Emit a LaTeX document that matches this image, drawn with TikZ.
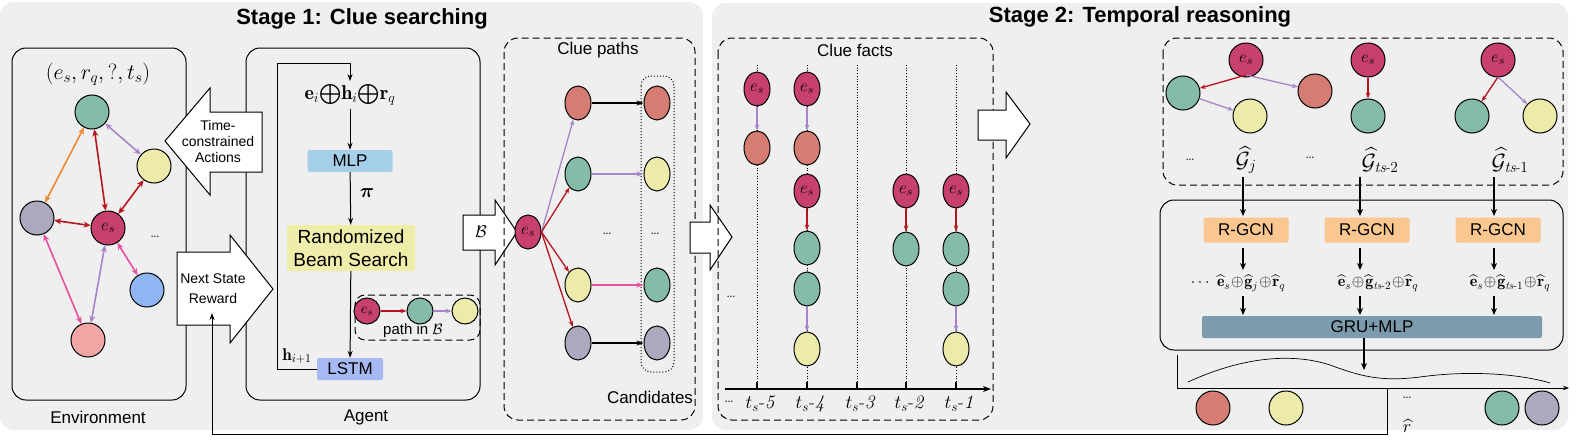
\RequirePackage{fix-cm}
\documentclass[tikz,border=0pt]{standalone}
\usepackage{amsmath,amssymb}
\usepackage{fontspec}
\newfontfamily\hv{Liberation Sans}
\usetikzlibrary{arrows.meta,shapes.geometric}
\definecolor{bgc}{HTML}{EFEFEF}
\definecolor{cES}{HTML}{C8406E}
\definecolor{cGR}{HTML}{84BBA9}
\definecolor{cYE}{HTML}{EDEBAA}
\definecolor{cGY}{HTML}{ABA9BE}
\definecolor{cSA}{HTML}{D57D72}
\definecolor{cBL}{HTML}{8FB5F2}
\definecolor{cPK}{HTML}{F2A6A3}
\definecolor{eRD}{HTML}{B8141E}
\definecolor{ePU}{HTML}{A784C8}
\definecolor{ePK}{HTML}{E94F9F}
\definecolor{eOR}{HTML}{EE8833}
\definecolor{bMLP}{HTML}{A6CFEA}
\definecolor{bLSTM}{HTML}{A6B9F2}
\definecolor{bRBS}{HTML}{EEEDAA}
\definecolor{bRG}{HTML}{F9C78F}
\definecolor{bGRU}{HTML}{7C9CAD}
\tikzset{
 nd/.style={circle,draw,line width=1pt,minimum size=34pt,inner sep=0pt,font=\fontsize{17}{17}\selectfont},
 sm/.style={circle,draw,line width=1pt,minimum size=26pt,inner sep=0pt,font=\fontsize{15}{15}\selectfont},
 el/.style={ellipse,draw,line width=1pt,minimum width=26pt,minimum height=34pt,inner sep=0pt,font=\fontsize{17}{17}\selectfont},
 ar/.style={line width=1.6pt,-{Stealth[length=7pt,width=6pt]}},
 dar/.style={line width=1.6pt,{Stealth[length=7pt,width=6pt]}-{Stealth[length=7pt,width=6pt]}},
 bar/.style={line width=1pt,-{Stealth[length=7pt,width=5pt]}},
 lbl/.style={font=\hv\fontsize{17}{17}\selectfont},
 dts/.style={font=\fontsize{17}{17}\selectfont},
 box/.style={rounded corners=2pt,inner sep=0pt,font=\hv\fontsize{17}{17}\selectfont},
 frame/.style={draw,line width=1pt,rounded corners=14pt},
 dframe/.style={draw,line width=1pt,dashed,dash pattern=on 7pt off 4pt,rounded corners=14pt},
 blk/.style={draw,fill=white,line width=1pt},
}
\begin{document}
\begin{tikzpicture}[x=1pt,y=-1pt]
\useasboundingbox (0,0) rectangle (1578,439);
\fill[bgc,rounded corners=14pt] (0,2) rectangle (703,430);
\fill[bgc,rounded corners=14pt] (712,3) rectangle (1568,430);
\node[font=\hv\bfseries\fontsize{22}{22}\selectfont] (t1) at (362,19) {Stage 1: Clue searching};
\node[font=\hv\bfseries\fontsize{22}{22}\selectfont] (t2) at (1140,17) {Stage 2: Temporal reasoning};
% Environment
\draw[frame] (12,48) rectangle (186,400);
\node[lbl] (envl) at (98,417) {Environment};
\node[font=\fontsize{22}{22}\selectfont] (tup) at (98,74) {$(e_s, r_q, ?, t_s)$};
\node[nd,fill=cGR] (g1) at (92,112) {};
\node[nd,fill=cYE] (y1) at (154,166) {};
\node[nd,fill=cGY] (a1) at (37,218) {};
\node[nd,fill=cES] (e1) at (108,228) {$e_s$};
\node[nd,fill=cBL] (b1) at (147,290) {};
\node[nd,fill=cPK] (p1) at (88,340) {};
\node[dts] (d1) at (155,237) {\dots};
\draw[dar,eOR] (a1) -- (g1);
\draw[dar,eRD] (g1) -- (e1);
\draw[dar,ePU] (g1) -- (y1);
\draw[dar,eRD] (y1) -- (e1);
\draw[dar,eRD] (a1) -- (e1);
\draw[dar,ePK] (a1) -- (p1);
\draw[dar,ePU] (p1) -- (e1);
\draw[dar,ePK] (e1) -- (b1);
% Agent
\draw[frame] (246,48) rectangle (480,400);
\node[lbl] (agl) at (366,417) {Agent};
% block arrows
\draw[blk] (165,141) -- (210,88) -- (210,112) -- (262,112) -- (262,172) -- (210,172) -- (210,195) -- cycle;
\node[font=\hv\fontsize{14}{16}\selectfont,align=center] (tca) at (218,141) {Time-\\constrained\\Actions};
\draw[blk] (177,252) -- (230,252) -- (230,235) -- (273,289) -- (230,343) -- (230,325) -- (177,325) -- cycle;
\node[font=\hv\fontsize{14}{20}\selectfont,align=center] (nsr) at (213,289) {Next State\\Reward};
\node[font=\fontsize{20}{20}\selectfont] (form) at (350,95) {$\mathbf{e}_i\!\bigoplus\!\mathbf{h}_i\!\bigoplus\!\mathbf{r}_q$};
\node[box,fill=bMLP,minimum width=85pt,minimum height=22pt] (mlp) at (350,161) {MLP};
\node[font=\fontsize{20}{20}\selectfont] (pi) at (367,193) {$\boldsymbol{\pi}$};
\node[box,fill=bRBS,minimum width=128pt,minimum height=46pt,align=center,font=\hv\fontsize{19}{23}\selectfont] (rbs) at (351,248) {Randomized\\Beam Search};
\node[box,fill=bLSTM,minimum width=66pt,minimum height=22pt] (lstm) at (350,369) {LSTM};
\node[font=\fontsize{17}{17}\selectfont] (hi) at (297,356) {$\mathbf{h}_{i+1}$};
\draw[bar] (form) -- (mlp);
\draw[bar] (mlp) -- (rbs);
\draw[bar] (rbs) -- (lstm);
\coordinate (lp1) at (277,369);
\coordinate (lp2) at (277,63);
\coordinate (lp3) at (350,63);
\draw[bar] (lstm.west) -- (lp1) -- (lp2) -- (lp3) -- (form.north);
\draw[dframe,rounded corners=10pt] (355,295) rectangle (480,340);
\node[sm,fill=cES] (pe) at (367,311) {$e_s$};
\node[sm,fill=cGR] (pg) at (420,311) {};
\node[sm,fill=cYE] (py) at (465,311) {};
\draw[line width=1.3pt,eRD,-{Stealth[length=6pt]}] (pe) -- (pg);
\draw[line width=1.3pt,ePU,-{Stealth[length=6pt]}] (pg) -- (py);
\node[lbl,font=\hv\fontsize{15}{15}\selectfont] (pib) at (413,331) {path in $\mathcal{B}$};
\draw[blk] (463,215) -- (495,215) -- (495,200) -- (517,232) -- (495,265) -- (495,250) -- (463,250) -- cycle;
\node[font=\fontsize{17}{17}\selectfont] (bb) at (481,232) {$\mathcal{B}$};
% Clue paths
\draw[dframe] (504,38) rectangle (695,420);
\node[lbl] (cpl) at (598,50) {Clue paths};
\draw[line width=1pt,dotted,rounded corners=10pt] (641,76) rectangle (674,372);
\node[lbl] (cand) at (650,397) {Candidates};
\node[el,fill=cES] (ce) at (528,232) {$e_s$};
\node[el,fill=cSA] (c11) at (578,103) {};
\node[el,fill=cGR] (c12) at (578,174) {};
\node[el,fill=cYE] (c13) at (578,285) {};
\node[el,fill=cGY] (c14) at (578,343) {};
\node[el,fill=cSA] (c21) at (657,103) {};
\node[el,fill=cYE] (c22) at (657,174) {};
\node[el,fill=cGR] (c23) at (657,285) {};
\node[el,fill=cGY] (c24) at (657,343) {};
\node[dts] (cd1) at (607,234) {\dots};
\node[dts] (cd2) at (655,234) {\dots};
\draw[line width=1.3pt,ePU,-{Stealth[length=6pt]}] (ce.east) -- (c11);
\draw[line width=1.3pt,eRD,-{Stealth[length=6pt]}] (ce.east) -- (c12);
\draw[line width=1.3pt,eRD,-{Stealth[length=6pt]}] (ce.east) -- (c13);
\draw[line width=1.3pt,eRD,-{Stealth[length=6pt]}] (ce.east) -- (c14);
\draw[line width=1.5pt,-{Stealth[length=7pt]}] (c11) -- (c21);
\draw[line width=1.5pt,ePU,-{Stealth[length=7pt]}] (c12) -- (c22);
\draw[line width=1.5pt,ePK,-{Stealth[length=7pt]}] (c13) -- (c23);
\draw[line width=1.5pt,-{Stealth[length=7pt]}] (c14) -- (c24);
\draw[blk] (690,222) -- (710,222) -- (710,205) -- (732,237) -- (710,270) -- (710,253) -- (690,253) -- cycle;
% Clue facts
\draw[dframe] (718,38) rectangle (993,420);
\node[lbl] (cfl) at (855,50) {Clue facts};
\coordinate (ax0) at (725,389);
\coordinate (ax1) at (991,389);
\draw[line width=2pt,-{Stealth[length=8pt]}] (ax0) -- (ax1);
\foreach \x/\l in {757/5,807/4,857/3,906/2,956/1}{
  \coordinate (tk\l) at (\x,65);
  \coordinate (tb\l) at (\x,389);
  \draw[dotted,line width=0.7pt] (tk\l) -- (tb\l);
  \draw[line width=1.6pt] (\x,382) -- (tb\l);
  \node[font=\fontsize{19}{19}\selectfont] (tl\l) at (\x+3,404) {$t_{s}$-$\mathit{\l}$};
}
\node[dts] (fdl) at (729,402) {\dots};
\node[dts] (fdm) at (731,297) {\dots};
\node[el,fill=cES] (f51) at (757,89) {$e_s$};
\node[el,fill=cSA] (f52) at (757,148) {};
\node[el,fill=cES] (f41) at (807,89) {$e_s$};
\node[el,fill=cSA] (f42) at (807,148) {};
\node[el,fill=cES] (f43) at (807,191) {$e_s$};
\node[el,fill=cGR] (f44) at (807,248) {};
\node[el,fill=cGR] (f45) at (807,289) {};
\node[el,fill=cYE] (f46) at (807,349) {};
\node[el,fill=cES] (f21) at (906,191) {$e_s$};
\node[el,fill=cGR] (f22) at (906,249) {};
\node[el,fill=cES] (f11) at (956,191) {$e_s$};
\node[el,fill=cGR] (f12) at (956,249) {};
\node[el,fill=cGR] (f13) at (956,289) {};
\node[el,fill=cYE] (f14) at (956,349) {};
\draw[line width=1.3pt,ePU,-{Stealth[length=6pt]}] (f51) -- (f52);
\draw[line width=1.3pt,ePU,-{Stealth[length=6pt]}] (f41) -- (f42);
\draw[line width=1.3pt,eRD,-{Stealth[length=6pt]}] (f43) -- (f44);
\draw[line width=1.3pt,ePU,-{Stealth[length=6pt]}] (f45) -- (f46);
\draw[line width=1.3pt,eRD,-{Stealth[length=6pt]}] (f21) -- (f22);
\draw[line width=1.3pt,eRD,-{Stealth[length=6pt]}] (f11) -- (f12);
\draw[line width=1.3pt,ePU,-{Stealth[length=6pt]}] (f13) -- (f14);
\draw[blk] (978,110) -- (1006,110) -- (1006,92) -- (1030,124) -- (1006,158) -- (1006,140) -- (978,140) -- cycle;
% Right dashed graphs
\draw[dframe] (1163,38) rectangle (1563,185);
\node[nd,fill=cES] (r1e) at (1246,60) {$e_s$};
\node[nd,fill=cGR] (r1g) at (1183,93) {};
\node[nd,fill=cSA] (r1s) at (1315,91) {};
\node[nd,fill=cYE] (r1y) at (1250,116) {};
\node[nd,fill=cES] (r2e) at (1368,60) {$e_s$};
\node[nd,fill=cGR] (r2g) at (1368,116) {};
\node[nd,fill=cES] (r3e) at (1498,60) {$e_s$};
\node[nd,fill=cGR] (r3g) at (1472,116) {};
\node[nd,fill=cYE] (r3y) at (1540,116) {};
\coordinate (r1o) at (1246,75);
\coordinate (r3o) at (1498,77);
\draw[line width=1.3pt,eRD,-{Stealth[length=6pt]}] (r1o) -- (r1g);
\draw[line width=1.3pt,ePU,-{Stealth[length=6pt]}] (r1o) -- (r1s);
\draw[line width=1.3pt,ePU,-{Stealth[length=6pt]}] (r1g) -- (r1y);
\draw[line width=1.3pt,eRD,-{Stealth[length=6pt]}] (r2e) -- (r2g);
\draw[line width=1.3pt,eRD,-{Stealth[length=6pt]}] (r3o) -- (r3g);
\draw[line width=1.3pt,ePU,-{Stealth[length=6pt]}] (r3o) -- (r3y);
\node[dts] (rd1) at (1190,160) {\dots};
\node[dts] (rd2) at (1310,158) {\dots};
\node[font=\fontsize{22}{22}\selectfont] (G1) at (1246,160) {$\widehat{\mathcal{G}}_{j}$};
\node[font=\fontsize{22}{22}\selectfont] (G2) at (1380,160) {$\widehat{\mathcal{G}}_{\mathit{ts}\text{-}2}$};
\node[font=\fontsize{22}{22}\selectfont] (G3) at (1510,160) {$\widehat{\mathcal{G}}_{\mathit{ts}\text{-}1}$};
% reasoning box
\draw[frame] (1160,200) rectangle (1563,350);
\node[box,fill=bRG,minimum width=85pt,minimum height=25pt] (rg1) at (1246,230) {R-GCN};
\node[box,fill=bRG,minimum width=85pt,minimum height=25pt] (rg2) at (1367,230) {R-GCN};
\node[box,fill=bRG,minimum width=85pt,minimum height=25pt] (rg3) at (1498,230) {R-GCN};
\node[font=\fontsize{16}{16}\selectfont] (fx1) at (1238,283) {$\cdots\ \widehat{\mathbf{e}}_s\!\oplus\!\widehat{\mathbf{g}}_{j}\!\oplus\!\widehat{\mathbf{r}}_q$};
\node[font=\fontsize{16}{16}\selectfont] (fx2) at (1378,283) {$\widehat{\mathbf{e}}_s\!\oplus\!\widehat{\mathbf{g}}_{\mathit{ts}\text{-}2}\!\oplus\!\widehat{\mathbf{r}}_q$};
\node[font=\fontsize{16}{16}\selectfont] (fx3) at (1510,283) {$\widehat{\mathbf{e}}_s\!\oplus\!\widehat{\mathbf{g}}_{\mathit{ts}\text{-}1}\!\oplus\!\widehat{\mathbf{r}}_q$};
\node[box,fill=bGRU,minimum width=340pt,minimum height=22pt] (gru) at (1372,327) {GRU+MLP};
\foreach \x/\i in {1243/1,1360/2,1494/3}{
  \coordinate (ga\i) at (\x,177);
  \coordinate (gb\i) at (\x,216);
  \coordinate (gc\i) at (\x,248);
  \coordinate (gd\i) at (\x,270);
  \coordinate (ge\i) at (\x,296);
  \coordinate (gf\i) at (\x,315);
  \draw[ar] (ga\i) -- (gb\i);
  \draw[ar] (gc\i) -- (gd\i);
  \draw[ar] (ge\i) -- (gf\i);
}
\coordinate (go) at (1364,370);
\draw[ar] (gru.south -| go) -- (go);
% distribution
\coordinate (dx0) at (1177,355);
\coordinate (dx1) at (1177,388);
\coordinate (dx2) at (1569,388);
\draw[line width=0.8pt,-{Stealth[length=6pt]}] (dx0) -- (dx1) -- (dx2);
\draw[line width=0.7pt] (1188,382) .. controls (1240,358) and (1290,352) .. (1330,365) .. controls (1360,376) and (1380,382) .. (1420,377) .. controls (1470,370) and (1520,374) .. (1550,383);
\node[nd,fill=cSA] (o1) at (1213,408) {};
\node[nd,fill=cYE] (o2) at (1286,408) {};
\node[nd,fill=cGR] (o3) at (1502,408) {};
\node[nd,fill=cGY] (o4) at (1542,408) {};
\node[dts] (od) at (1407,398) {\dots};
\node[font=\fontsize{18}{18}\selectfont] (rh) at (1407,426) {$\widehat{r}$};
% feedback
\coordinate (fb0) at (1387,389);
\coordinate (fb1) at (1387,434);
\coordinate (fb2) at (212,434);
\coordinate (fb3) at (212,313);
\draw[line width=1pt,-{Stealth[length=7pt,width=5pt]}] (fb0) -- (fb1) -- (fb2) -- (fb3);
\end{tikzpicture}
\end{document}
